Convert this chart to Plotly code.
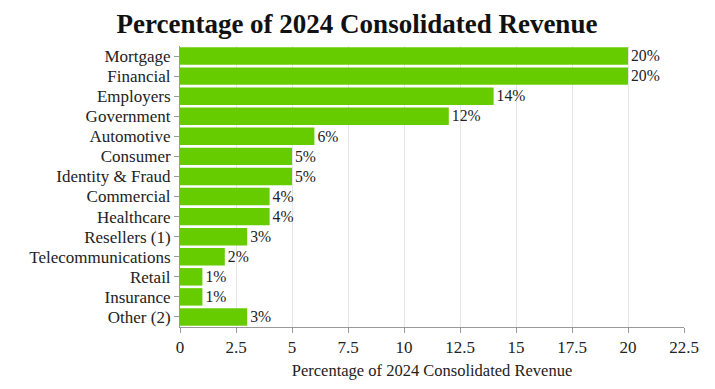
import plotly.graph_objects as go

categories = ["Mortgage", "Financial", "Employers", "Government", "Automotive", "Consumer",
              "Identity & Fraud", "Commercial", "Healthcare", "Resellers (1)",
              "Telecommunications", "Retail", "Insurance", "Other (2)"]
values = [20, 20, 14, 12, 6, 5, 5, 4, 4, 3, 2, 1, 1, 3]
labels = [f"{v}%" for v in values]
tick_vals = [0, 2.5, 5, 7.5, 10, 12.5, 15, 17.5, 20, 22.5]
tick_text = ["0", "2.5", "5", "7.5", "10", "12.5", "15", "17.5", "20", "22.5"]

FONT = "Liberation Serif, Times New Roman, serif"

fig = go.Figure(go.Bar(
    x=values, y=categories, orientation="h",
    marker=dict(color="#66CC00", line=dict(width=0)),
    text=labels, textposition="outside", cliponaxis=False,
    textfont=dict(family=FONT, size=18, color="#222222"),
))

fig.update_layout(
    width=715, height=389,
    margin=dict(l=172, r=39, t=38, b=70, autoexpand=False),
    paper_bgcolor="white", plot_bgcolor="white",
    font=dict(family=FONT, size=17, color="#222222"),
    title=dict(text="<b>Percentage of 2024 Consolidated Revenue</b>",
               x=0.488, xanchor="center", y=0.985, yanchor="top",
               font=dict(family=FONT, size=27, color="#111111")),
    bargap=0.13,
    showlegend=False,
)
fig.update_xaxes(
    range=[0, 22.5], tickvals=tick_vals, ticktext=tick_text,
    showgrid=True, gridcolor="#e6e6e6", gridwidth=1,
    showline=True, linecolor="#999999", linewidth=1,
    ticks="outside", tickcolor="#999999", ticklen=5,
    zeroline=False, automargin=False,
    title=dict(text="Percentage of 2024 Consolidated Revenue", font=dict(family=FONT, size=16.5), standoff=8),
    tickfont=dict(family=FONT, size=17),
)
fig.update_yaxes(
    categoryorder="array", categoryarray=categories, autorange="reversed",
    showline=True, linecolor="#999999", linewidth=1,
    ticks="outside", tickcolor="#999999", ticklen=5, automargin=False,
    tickfont=dict(family=FONT, size=17),
)

fig.write_html("out.html")
